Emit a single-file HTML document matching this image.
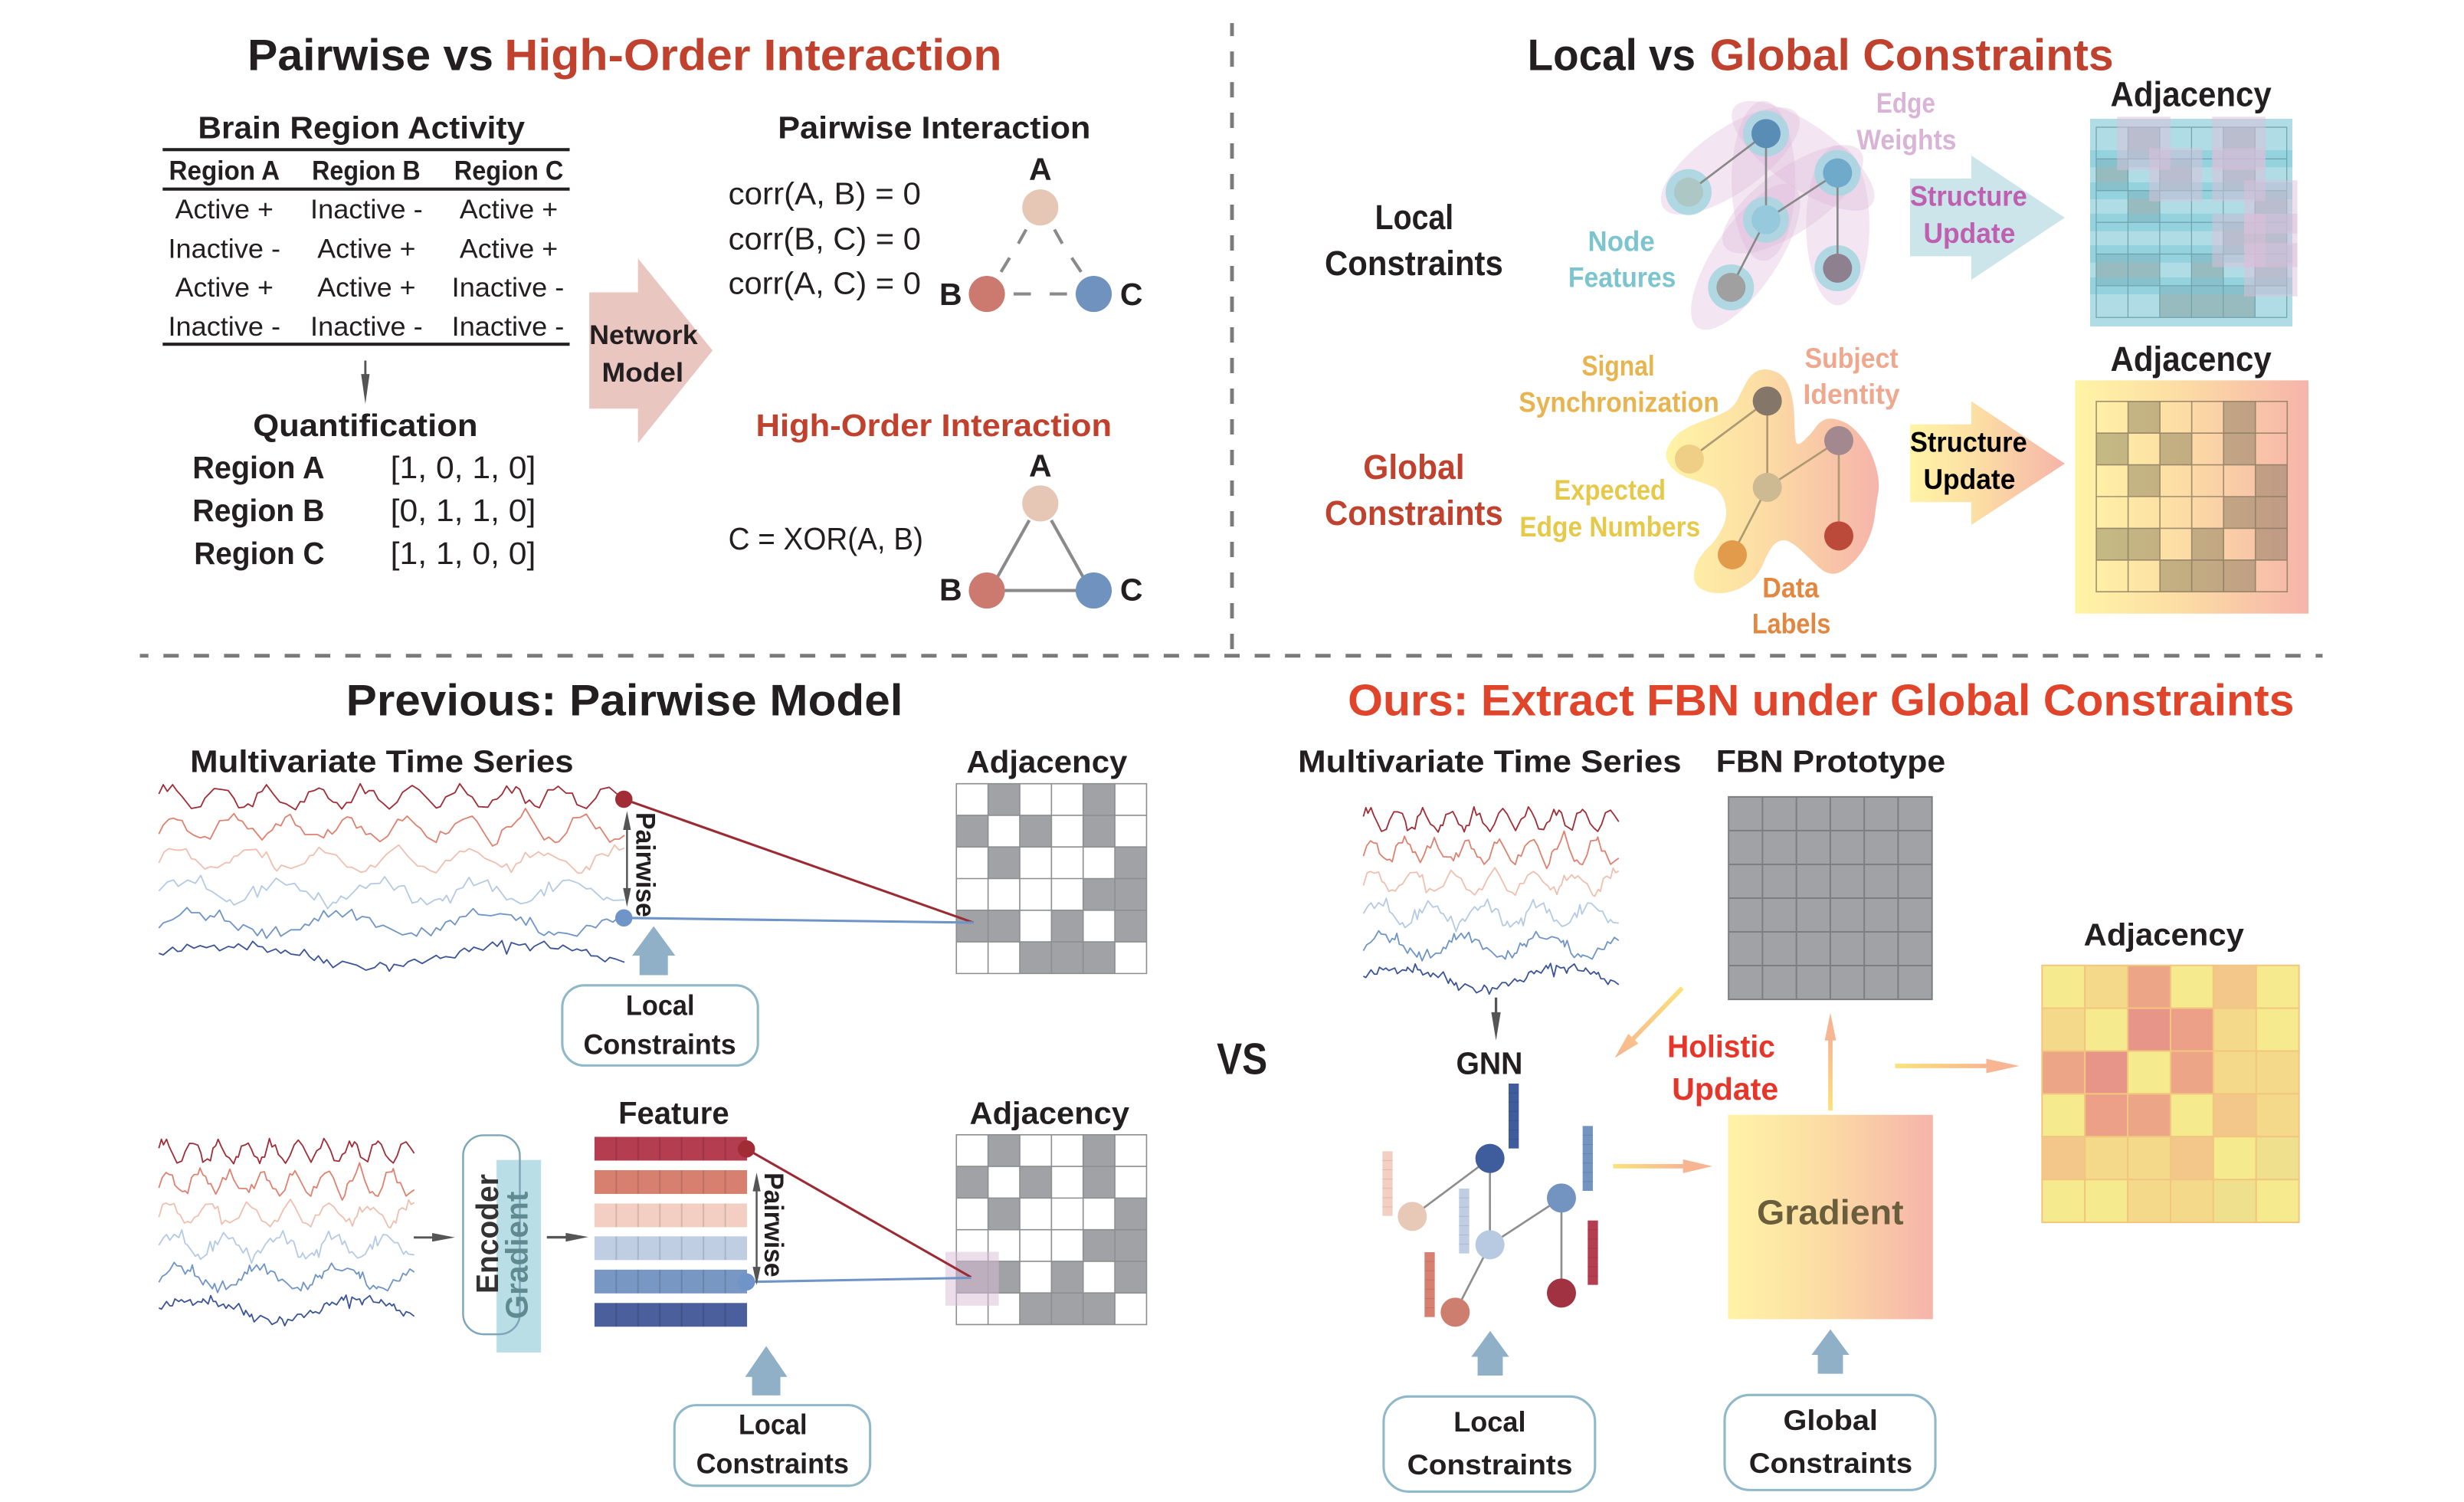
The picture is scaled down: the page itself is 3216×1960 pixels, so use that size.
<!DOCTYPE html>
<html><head><meta charset="utf-8"><title>Pairwise vs High-Order</title>
<style>
html,body{margin:0;padding:0;background:#fff}
svg{display:block}
text{font-family:"Liberation Sans",sans-serif;fill:#231f20}
.b{font-weight:700}
.f28{font-size:28px}.f22{font-size:22px}.f20{font-size:20px}.f18{font-size:18px}.f17{font-size:17px}.f16{font-size:16px}
.r{fill:#C0412D}
.ns{vector-effect:non-scaling-stroke;fill:none}
.s1 polyline{vector-effect:non-scaling-stroke;fill:none;stroke-width:1.8;stroke-linejoin:round}
.cm rect{width:1px;height:1px;stroke:#F2C67E;stroke-width:2;vector-effect:non-scaling-stroke}
</style></head><body>
<svg xmlns="http://www.w3.org/2000/svg" width="3216" height="1960" viewBox="0 0 1568 955.62">
<defs>
<linearGradient id="yg"><stop offset="0" stop-color="#FFF4A6"/><stop offset=".45" stop-color="#FCDDA4"/><stop offset="1" stop-color="#F6B4AA"/></linearGradient>
<linearGradient id="ag"><stop offset="0" stop-color="#FBE27A"/><stop offset="1" stop-color="#F7B592"/></linearGradient>
<linearGradient id="agv" x1="0" y1="1" x2="0" y2="0"><stop offset="0" stop-color="#FBE27A"/><stop offset="1" stop-color="#F7B592"/></linearGradient>
<linearGradient id="agd" x1="1" y1="0" x2="0" y2="1"><stop offset="0" stop-color="#FBE27A"/><stop offset="1" stop-color="#F7B592"/></linearGradient>
<path id="cells" d="M1 0h1v1h-1z M4 0h1v1h-1z M0 1h1v1h-1z M2 1h1v1h-1z M4 1h1v1h-1z M1 2h1v1h-1z M5 2h1v1h-1z M4 3h2v1h-2z M0 4h2v1h-2z M3 4h1v1h-1z M5 4h1v1h-1z M2 5h3v1h-3z"/>
<path id="grid" class="ns" d="M0 0H6V6H0Z M1 0V6M2 0V6M3 0V6M4 0V6M5 0V6M0 1H6M0 2H6M0 3H6M0 4H6M0 5H6"/>
<g id="adj">
<rect width="6" height="6" fill="#fff"/>
<use href="#cells" fill="#A0A2A5"/>
<use href="#grid" stroke="#8c8e90" stroke-width="1.6"/>
</g>
<path id="d7" d="M13.87 0V15M27.74 0V15M41.61 0V15M55.48 0V15M69.35 0V15M83.22 0V15" fill="none" stroke="#000" stroke-opacity=".12" stroke-width="1"/>
<path id="d7v" d="M0 36.3H40M0 72.6H40M0 108.9H40M0 145.2H40M0 181.5H40M0 217.8H40" fill="none" stroke="#000" stroke-opacity=".1" stroke-width="3"/>
<g id="set2" class="s1" transform="scale(.48756) translate(200 1480) scale(.33333)">
<polyline stroke="#A12C35" points="22,55 32,20 40,42 52,20 62,48 75,75 93,113 112,105 125,68 142,36 158,37 175,43 187,75 194,110 212,97 224,104 234,55 245,45 254,20 268,52 285,85 298,93 315,116 325,88 333,90 345,47 360,42 372,35 385,60 395,85 408,92 417,115 425,90 436,90 455,17 465,50 478,42 490,80 505,95 518,114 535,85 552,42 568,23 585,45 600,75 618,110 630,85 640,65 655,55 668,17 680,35 695,65 708,103 728,106 740,80 752,72 768,27 778,50 788,30 798,40 812,90 825,98 840,108 858,42 872,38 880,27 893,40 910,82 925,100 940,113 955,85 970,40 990,30 1005,50 1022,75"/>
<polyline stroke="#E0806F" points="22,210 35,170 50,150 62,158 75,160 85,200 100,215 115,225 125,222 135,232 150,170 160,158 175,158 183,132 195,160 205,165 215,195 225,193 245,235 260,205 272,170 285,178 300,137 315,178 335,212 350,213 365,213 375,228 385,197 395,213 420,150 435,147 445,180 455,183 468,213 480,215 495,242 515,220 535,155 545,160 555,143 575,180 600,228 617,243 628,205 640,210 655,170 672,153 690,145 705,170 722,215 740,258 750,240 760,195 770,183 780,183 795,150 808,112 828,180 848,230 858,225 870,240 880,243 898,205 912,150 935,147 940,135 955,190 968,190 990,242 1005,230 1022,218"/>
<polyline stroke="#F0BFAF" points="22,325 37,275 50,270 65,277 82,272 95,310 105,315 122,348 135,342 147,347 162,325 175,320 190,295 205,275 232,273 242,292 253,283 268,353 282,337 300,347 320,335 335,328 350,295 365,265 385,287 405,297 425,340 440,345 458,362 475,337 487,342 510,295 537,255 555,285 570,315 585,345 605,352 617,363 635,317 650,317 665,285 688,270 708,285 725,310 745,327 755,342 768,330 780,360 790,330 798,322 808,285 818,305 838,283 850,297 862,287 885,310 898,317 920,362 928,367 942,340 950,348 962,297 975,288 990,297 1000,257 1010,275 1022,268"/>
<polyline stroke="#B5CAE5" points="22,435 40,405 52,393 65,415 82,392 100,405 112,375 125,428 135,435 165,478 175,470 185,490 210,470 223,420 233,458 242,418 252,432 275,385 295,410 312,405 325,433 335,435 352,465 365,445 385,505 398,470 410,455 420,465 440,430 458,408 470,422 482,407 495,405 508,378 525,430 540,415 550,420 568,482 578,480 585,465 597,488 610,475 622,465 630,475 640,452 648,482 660,430 672,415 687,380 698,412 712,402 728,393 740,432 750,418 768,465 778,460 800,485 815,480 830,470 850,432 858,450 870,400 878,437 900,393 915,395 945,425 958,425 980,470 990,458 1000,470 1022,472"/>
<polyline stroke="#6F94C8" points="22,580 35,557 50,548 65,532 82,502 92,515 110,517 125,548 135,532 145,537 153,512 163,555 178,560 195,590 205,570 232,605 240,585 252,620 272,575 285,608 305,590 325,590 335,567 345,572 358,540 368,547 377,513 385,537 405,512 418,532 435,508 447,548 460,535 475,540 490,575 505,568 525,585 545,605 565,600 578,613 588,580 605,608 615,590 622,590 636,550 645,560 652,553 660,565 668,538 685,530 698,505 712,528 740,535 760,525 785,532 797,548 805,540 810,565 820,540 835,590 848,607 862,592 875,605 880,597 900,603 918,613 940,570 955,575 965,575 978,545 990,552 1005,528 1022,540"/>
<polyline stroke="#3B5499" points="22,680 32,685 52,655 65,672 75,672 85,645 100,655 110,648 122,658 145,648 155,670 175,655 190,658 195,645 215,665 225,632 235,655 245,655 255,675 275,665 285,682 295,668 315,685 335,663 355,708 362,690 378,715 385,705 395,735 420,710 450,725 465,745 485,735 495,715 505,725 515,750 527,725 545,730 565,705 580,705 590,718 615,690 625,700 635,695 650,702 660,688 670,665 680,660 690,670 700,658 718,668 738,638 745,650 755,630 768,682 778,638 795,648 808,645 818,668 825,650 848,632 862,657 885,660 892,648 912,672 925,662 935,672 942,665 952,690 965,690 980,712 990,695 1005,700 1022,713"/>
</g>
</defs>

<!-- dividers -->
<line x1="784" y1="14.7" x2="784" y2="413" stroke="#7a7a7a" stroke-width="2.4" stroke-dasharray="9.75 9.75" stroke-dashoffset="1.5"/>
<line x1="89" y1="417.2" x2="1478" y2="417.2" stroke="#7a7a7a" stroke-width="2.4" stroke-dasharray="9.75 9.54" stroke-dashoffset="4.3"/>

<!-- TL title -->
<text x="157.5" y="44.7" class="b f28" textLength="156.5" lengthAdjust="spacingAndGlyphs">Pairwise vs</text>
<text x="321" y="44.7" class="b f28 r" textLength="316.5" lengthAdjust="spacingAndGlyphs">High-Order Interaction</text>
<text x="126" y="88" class="b f20" textLength="208" lengthAdjust="spacingAndGlyphs">Brain Region Activity</text>
<rect x="103.5" y="94.2" width="259" height="2" fill="#231f20"/>
<rect x="103.5" y="119.3" width="259" height="2" fill="#231f20"/>
<rect x="103.5" y="218" width="259" height="2" fill="#231f20"/>
<g class="b f17">
<text x="107.5" y="114.4" textLength="70.5" lengthAdjust="spacingAndGlyphs">Region A</text>
<text x="198.5" y="114.4" textLength="69" lengthAdjust="spacingAndGlyphs">Region B</text>
<text x="289" y="114.4" textLength="69.5" lengthAdjust="spacingAndGlyphs">Region C</text>
</g>
<g class="f17">
<text x="111.5" y="139" textLength="62.5" lengthAdjust="spacingAndGlyphs">Active +</text>
<text x="197.5" y="139" textLength="71.5" lengthAdjust="spacingAndGlyphs">Inactive -</text>
<text x="292.5" y="139" textLength="62.5" lengthAdjust="spacingAndGlyphs">Active +</text>
<text x="107" y="164" textLength="71.5" lengthAdjust="spacingAndGlyphs">Inactive -</text>
<text x="202" y="164" textLength="62.5" lengthAdjust="spacingAndGlyphs">Active +</text>
<text x="292.5" y="164" textLength="62.5" lengthAdjust="spacingAndGlyphs">Active +</text>
<text x="111.5" y="188.8" textLength="62.5" lengthAdjust="spacingAndGlyphs">Active +</text>
<text x="202" y="188.8" textLength="62.5" lengthAdjust="spacingAndGlyphs">Active +</text>
<text x="287.5" y="188.8" textLength="71.5" lengthAdjust="spacingAndGlyphs">Inactive -</text>
<text x="107" y="213.6" textLength="71.5" lengthAdjust="spacingAndGlyphs">Inactive -</text>
<text x="197.5" y="213.6" textLength="71.5" lengthAdjust="spacingAndGlyphs">Inactive -</text>
<text x="287.5" y="213.6" textLength="71.5" lengthAdjust="spacingAndGlyphs">Inactive -</text>
</g>
<polygon points="231.8,229.4 233.2,229.4 233.2,238 235.2,238 232.5,257 229.8,238 231.8,238" fill="#555"/>
<text x="161" y="277.5" class="b f20" textLength="143" lengthAdjust="spacingAndGlyphs">Quantification</text>
<g class="b f20">
<text x="122.5" y="304.3" textLength="84" lengthAdjust="spacingAndGlyphs">Region A</text>
<text x="122.5" y="331.5" textLength="84" lengthAdjust="spacingAndGlyphs">Region B</text>
<text x="123.5" y="358.8" textLength="83" lengthAdjust="spacingAndGlyphs">Region C</text>
</g>
<g class="f20">
<text x="248.5" y="304.3" textLength="92.5" lengthAdjust="spacingAndGlyphs">[1, 0, 1, 0]</text>
<text x="248.5" y="331.5" textLength="92.5" lengthAdjust="spacingAndGlyphs">[0, 1, 1, 0]</text>
<text x="248.5" y="358.8" textLength="92.5" lengthAdjust="spacingAndGlyphs">[1, 1, 0, 0]</text>
</g>
<polygon points="375,186 406,186 406,164.4 453.5,223 406,282 406,260 375,260" fill="#EAC6C0"/>
<text x="375" y="219" class="b f17" textLength="69" lengthAdjust="spacingAndGlyphs">Network</text>
<text x="383" y="242.8" class="b f17" textLength="52" lengthAdjust="spacingAndGlyphs">Model</text>

<text x="495" y="88" class="b f20" textLength="199" lengthAdjust="spacingAndGlyphs">Pairwise Interaction</text>
<g class="f20">
<text x="463.5" y="130" textLength="122.5" lengthAdjust="spacingAndGlyphs">corr(A, B) = 0</text>
<text x="463.5" y="158.6" textLength="122.5" lengthAdjust="spacingAndGlyphs">corr(B, C) = 0</text>
<text x="463.5" y="187" textLength="122.5" lengthAdjust="spacingAndGlyphs">corr(A, C) = 0</text>
<text x="463.5" y="349.6" textLength="124" lengthAdjust="spacingAndGlyphs">C = XOR(A, B)</text>
</g>
<g stroke="#8a8a8a" stroke-width="2" fill="none">
<path d="M653 146L648 155M642.5 164L637 173M671 146L676 155M682 164L688 173M645 187H656M668 187H679"/>
<path d="M655 331L632 372M669 331L692 372M628 375.7H696"/>
</g>
<circle cx="662" cy="132" r="11.5" fill="#E6C7B6"/>
<circle cx="628" cy="187" r="11.5" fill="#CC7A70"/>
<circle cx="696" cy="187" r="11.5" fill="#6F92BF"/>
<circle cx="662" cy="320.3" r="11.5" fill="#E6C7B6"/>
<circle cx="628" cy="375.7" r="11.5" fill="#CC7A70"/>
<circle cx="696" cy="375.7" r="11.5" fill="#6F92BF"/>
<g class="b f20" text-anchor="middle">
<text x="662" y="114.4">A</text><text x="605" y="194">B</text><text x="720" y="194">C</text>
<text x="662" y="303">A</text><text x="605" y="382">B</text><text x="720" y="382">C</text>
</g>
<text x="481" y="277.5" class="b f20 r" textLength="226.5" lengthAdjust="spacingAndGlyphs">High-Order Interaction</text>

<!-- TR title -->
<text x="972" y="44.7" class="b f28" textLength="107" lengthAdjust="spacingAndGlyphs">Local vs</text>
<text x="1088" y="44.7" class="b f28 r" textLength="257" lengthAdjust="spacingAndGlyphs">Global Constraints</text>
<text x="1343" y="67.6" class="b f22" textLength="102.5" lengthAdjust="spacingAndGlyphs">Adjacency</text>
<text x="1343" y="236" class="b f22" textLength="102.5" lengthAdjust="spacingAndGlyphs">Adjacency</text>
<g class="b f22">
<text x="875" y="145.7" textLength="50" lengthAdjust="spacingAndGlyphs">Local</text>
<text x="843" y="175" textLength="113.5" lengthAdjust="spacingAndGlyphs">Constraints</text>
<text x="867.5" y="304.8" textLength="64.5" lengthAdjust="spacingAndGlyphs" class="r">Global</text>
<text x="843" y="334" textLength="113.5" lengthAdjust="spacingAndGlyphs" class="r">Constraints</text>
</g>

<!-- local graph -->
<g transform="scale(.48756) translate(2130 120) scale(.33333)">
<g fill="#DDB6D8" fill-opacity=".34">
<ellipse cx="385" cy="270" rx="320" ry="124" transform="rotate(-35 385 270)"/>
<ellipse cx="515" cy="348" rx="125" ry="313"/>
<ellipse cx="670" cy="250" rx="330" ry="124" transform="rotate(35 670 250)"/>
<ellipse cx="630" cy="420" rx="325" ry="124" transform="rotate(-35 630 420)"/>
<ellipse cx="445" cy="645" rx="335" ry="124" transform="rotate(-56 445 645)"/>
<ellipse cx="806" cy="522" rx="124" ry="313"/>
</g>
<g fill="#A9D6E1" fill-opacity=".9">
<circle cx="525" cy="163" r="90"/><circle cx="222" cy="392" r="90"/><circle cx="805" cy="317" r="90"/>
<circle cx="525" cy="500" r="90"/><circle cx="388" cy="765" r="90"/><circle cx="805" cy="690" r="90"/>
</g>
<path d="M525 163L222 392M525 163V500M805 317L525 500M805 317V690M525 500L388 765" stroke="#888" stroke-width="8" fill="none"/>
<circle cx="525" cy="163" r="57" fill="#5A8DB5"/><circle cx="222" cy="392" r="57" fill="#ADC8C4"/><circle cx="805" cy="317" r="57" fill="#6FAACB"/>
<circle cx="525" cy="500" r="57" fill="#97C9DD"/><circle cx="388" cy="765" r="57" fill="#A0A0A0"/><circle cx="805" cy="690" r="57" fill="#8F8090"/>
</g>
<g class="b f18">
<text x="1194" y="71.6" textLength="37.5" lengthAdjust="spacingAndGlyphs" style="fill:#D9B4D6">Edge</text>
<text x="1181.5" y="95" textLength="63.5" lengthAdjust="spacingAndGlyphs" style="fill:#D9B4D6">Weights</text>
<text x="1010.5" y="159.6" textLength="42.5" lengthAdjust="spacingAndGlyphs" style="fill:#7CC5CF">Node</text>
<text x="998" y="182.6" textLength="68.5" lengthAdjust="spacingAndGlyphs" style="fill:#7CC5CF">Features</text>
</g>
<polygon points="1215.5,113.6 1254.5,113.6 1254.5,99 1314,138.5 1254.5,178 1254.5,163 1215.5,163" fill="#CBE5EA"/>
<text x="1215.5" y="131" class="b f18" textLength="74.5" lengthAdjust="spacingAndGlyphs" style="fill:#BE5FAF">Structure</text>
<text x="1224" y="154.5" class="b f18" textLength="58.5" lengthAdjust="spacingAndGlyphs" style="fill:#BE5FAF">Update</text>

<!-- teal matrix -->
<g transform="scale(.48756)">
<rect x="2728" y="155" width="264" height="271" fill="#B0DDE5"/>
<use href="#cells" fill="#6f8080" opacity=".36" transform="translate(2736 166) scale(41.45 41.38)"/>
<g fill="#78C8D6" fill-opacity=".5">
<rect x="2728" y="196" width="264" height="22.3"/><rect x="2728" y="238" width="264" height="22"/>
<rect x="2728" y="278.7" width="264" height="23"/><rect x="2728" y="320" width="264" height="22.7"/>
<rect x="2728" y="362" width="264" height="22"/>
</g>
<use href="#grid" stroke="#6ea2ab" stroke-width="1.2" transform="translate(2736 166) scale(41.45 41.38)"/>
<g fill="#DBBFDA" fill-opacity=".5">
<rect x="2763.3" y="152.3" width="69.5" height="69.5"/><rect x="2805" y="193.3" width="69.5" height="69.5"/>
<rect x="2887.3" y="152.3" width="69.5" height="69.5"/><rect x="2887.3" y="193.3" width="69.5" height="69.5"/>
<rect x="2929" y="235.3" width="69.5" height="69.5"/><rect x="2887.3" y="279" width="69.5" height="69.5"/>
<rect x="2929" y="279" width="69.5" height="69.5"/><rect x="2929" y="317.3" width="69.5" height="69.5"/>
</g>
</g>

<!-- global graph -->
<g transform="scale(.48756) translate(2150 460) scale(.33333)">
<path d="M437 70Q465 60 502 75Q540 90 557 140Q575 190 576 265Q578 340 584 353Q590 367 615 343Q640 320 660 292Q680 265 705 260Q730 255 770 272Q810 290 845 340Q880 390 896 450Q912 510 904 550Q897 590 891 640Q885 690 862 740Q840 790 800 827Q760 865 730 866Q700 868 670 839Q640 810 605 777Q570 745 547 737Q525 730 502 747Q480 765 457 820Q435 875 397 902Q360 930 315 939Q270 948 230 934Q190 920 184 890Q178 860 194 825Q210 790 240 762Q270 735 294 687Q318 640 304 590Q290 540 255 525Q220 510 170 495Q120 480 91 445Q62 410 81 370Q100 330 135 307Q170 285 220 267Q270 250 305 232Q340 215 357 177Q375 140 392 110Q410 80 437 70Z" fill="url(#yg)"/>
<path d="M470 190L165 417M470 190V528M750 345L470 528M750 345V718M470 528L333 792" stroke="#AD9A72" stroke-width="8" fill="none"/>
<circle cx="470" cy="190" r="57" fill="#84776A"/><circle cx="165" cy="417" r="57" fill="#EFCF85"/>
<circle cx="750" cy="345" r="57" fill="#A48890"/><circle cx="470" cy="528" r="57" fill="#CDBA93"/>
<circle cx="333" cy="792" r="57" fill="#E29A4B"/><circle cx="750" cy="718" r="57" fill="#BC4A3A"/>
</g>
<g class="b f18">
<text x="1006.5" y="238.8" textLength="46.5" lengthAdjust="spacingAndGlyphs" style="fill:#E8B44F">Signal</text>
<text x="966.5" y="262" textLength="127.5" lengthAdjust="spacingAndGlyphs" style="fill:#E8B44F">Synchronization</text>
<text x="1148.5" y="234" textLength="59.5" lengthAdjust="spacingAndGlyphs" style="fill:#EFA78E">Subject</text>
<text x="1147.5" y="257" textLength="61.5" lengthAdjust="spacingAndGlyphs" style="fill:#EFA78E">Identity</text>
<text x="989" y="318" textLength="71" lengthAdjust="spacingAndGlyphs" style="fill:#E7C94A">Expected</text>
<text x="967" y="341.4" textLength="115" lengthAdjust="spacingAndGlyphs" style="fill:#E7C94A">Edge Numbers</text>
<text x="1121.5" y="380" textLength="36" lengthAdjust="spacingAndGlyphs" style="fill:#E2873F">Data</text>
<text x="1115" y="403" textLength="50" lengthAdjust="spacingAndGlyphs" style="fill:#E2873F">Labels</text>
</g>
<polygon points="1215.5,270 1254.5,270 1254.5,255.3 1314,295 1254.5,334 1254.5,319.5 1215.5,319.5" fill="url(#yg)"/>
<text x="1215.5" y="287.4" class="b f18" textLength="74.5" lengthAdjust="spacingAndGlyphs" style="fill:#000">Structure</text>
<text x="1224" y="311" class="b f18" textLength="58.5" lengthAdjust="spacingAndGlyphs" style="fill:#000">Update</text>
<rect x="1320.5" y="242" width="148.5" height="148.4" fill="url(#yg)"/>
<use href="#cells" fill="#6e6a50" opacity=".4" transform="translate(1334 255.4) scale(20.25 20.18)"/>
<use href="#grid" stroke="#8a7a60" stroke-width="1.6" opacity=".8" transform="translate(1334 255.4) scale(20.25 20.18)"/>

<!-- BL -->
<text x="220.2" y="455.2" class="b f28" textLength="354.4" lengthAdjust="spacingAndGlyphs">Previous: Pairwise Model</text>
<text x="121" y="491.2" class="b f20" textLength="244" lengthAdjust="spacingAndGlyphs">Multivariate Time Series</text>
<text x="615" y="491.4" class="b f20" textLength="102.4" lengthAdjust="spacingAndGlyphs">Adjacency</text>
<use href="#adj" transform="translate(608.6 498.6) scale(20.17 20.13)"/>

<g class="s1" transform="scale(.48756) translate(200 1020) scale(.40816 .33333)">
<polyline stroke="#A12C35" points="18,48 32,12 45,38 62,12 75,35 92,58 122,105 152,98 165,65 195,27 215,30 240,35 258,65 273,102 290,100 303,87 318,98 333,45 348,38 362,12 385,50 405,80 425,87 455,110 470,78 483,80 497,40 515,35 530,25 545,32 560,65 575,80 587,82 603,107 618,82 633,82 662,8 678,47 690,35 705,35 720,70 735,85 755,107 780,80 797,42 828,15 850,32 880,70 905,103 918,98 935,60 965,43 980,8 1005,50 1020,60 1040,98 1070,100 1085,72 1100,68 1115,50 1130,17 1147,45 1160,20 1172,30 1190,85 1203,72 1220,95 1235,102 1262,32 1280,32 1295,18 1320,45 1340,45 1355,90 1385,105 1415,65 1430,30 1458,22 1480,45 1500,65"/>
<polyline stroke="#E0806F" points="18,205 32,170 50,147 65,143 78,150 92,152 108,192 130,210 150,220 165,215 182,225 205,170 212,153 240,150 258,125 272,150 285,155 302,185 318,183 348,228 365,203 380,190 392,165 408,173 422,140 438,128 455,170 470,178 485,207 505,207 525,207 545,220 558,188 572,205 585,190 605,150 620,138 635,142 650,182 665,175 680,207 695,203 725,235 750,213 782,147 797,153 812,135 840,170 855,183 875,217 905,238 918,195 935,205 945,200 965,165 990,148 1020,135 1035,155 1065,215 1085,252 1100,243 1115,190 1130,177 1145,177 1165,150 1175,140 1190,105 1250,228 1265,217 1285,238 1297,235 1322,200 1342,142 1365,140 1385,127 1415,185 1428,178 1460,237 1475,225 1490,225 1507,210"/>
<polyline stroke="#F0BFAF" points="18,318 35,275 50,262 72,268 90,268 105,263 122,302 135,305 165,342 182,333 205,337 232,317 245,317 258,292 270,290 290,268 330,265 348,297 362,275 385,335 395,350 410,327 440,340 485,320 500,290 512,288 530,257 550,278 585,287 620,335 635,335 665,355 680,350 695,327 710,335 745,285 785,248 815,293 845,330 865,332 885,348 905,357 935,308 950,310 980,272 995,275 1010,262 1040,278 1060,300 1095,318 1115,335 1130,322 1145,355 1160,322 1175,315 1190,277 1205,297 1232,275 1250,290 1262,280 1300,305 1320,312 1358,358 1370,358 1385,332 1395,345 1415,290 1435,282 1455,292 1475,248 1490,268 1507,260"/>
<polyline stroke="#B5CAE5" points="18,428 45,393 65,385 80,410 110,385 135,398 152,367 170,420 188,430 235,470 245,462 258,483 292,463 320,410 333,452 347,408 362,425 393,378 425,405 452,398 470,427 490,430 515,463 528,435 558,497 575,472 585,475 600,448 618,460 650,420 660,405 680,418 695,400 725,398 740,372 770,425 785,410 803,407 828,475 845,470 855,455 875,482 900,463 918,458 925,467 938,445 950,475 970,423 990,415 1010,375 1025,407 1045,397 1070,385 1085,430 1098,410 1130,463 1145,457 1175,478 1195,473 1210,465 1240,423 1250,447 1265,393 1278,430 1310,387 1330,385 1360,398 1385,420 1400,418 1440,463 1450,453 1470,465 1507,463"/>
<polyline stroke="#6F94C8" points="18,573 32,553 62,540 85,522 108,493 122,513 148,513 168,543 182,525 195,530 212,503 228,545 245,548 272,582 288,560 318,578 333,603 348,577 362,613 392,568 408,605 440,580 470,580 485,558 498,563 515,535 528,545 545,505 560,530 585,505 605,530 635,500 650,542 668,528 692,533 712,570 735,562 760,577 797,600 825,592 842,605 858,572 888,603 905,572 918,582 935,550 950,543 965,560 980,530 1000,527 1023,497 1040,520 1080,525 1108,517 1145,522 1160,543 1175,530 1192,562 1205,532 1232,590 1250,602 1265,587 1282,600 1295,590 1325,595 1355,605 1385,563 1400,565 1415,572 1435,543 1450,538 1470,550 1490,528 1505,520"/>
<polyline stroke="#3B5499" points="18,672 32,678 62,648 78,665 90,663 108,637 130,652 150,642 170,650 195,640 212,662 240,645 258,650 272,635 300,658 318,625 335,645 350,647 365,668 392,655 408,672 422,660 440,675 468,680 483,657 500,685 515,700 528,682 545,710 555,697 575,728 605,703 650,718 680,738 708,728 725,708 745,720 755,742 770,715 800,723 815,705 835,695 860,712 905,680 918,692 935,685 965,690 980,665 995,652 1010,665 1025,648 1055,660 1085,628 1100,645 1115,622 1130,675 1145,630 1170,640 1190,635 1205,662 1218,645 1250,625 1270,652 1295,655 1310,640 1340,662 1355,655 1370,662 1385,657 1400,682 1420,683 1445,705 1460,688 1480,695 1507,707"/>
</g>
<line x1="397" y1="508.5" x2="619.5" y2="587" stroke="#9C2A33" stroke-width="1.5"/>
<line x1="397" y1="584" x2="619.5" y2="587" stroke="#6F94C8" stroke-width="1.5"/>
<circle cx="397" cy="508.5" r="5.5" fill="#A12C35"/><circle cx="397" cy="584" r="5.5" fill="#6F94C8"/>
<path d="M399 520V573" stroke="#555" stroke-width="1.2"/>
<polygon points="399,516 401.5,528 396.5,528" fill="#555"/><polygon points="399,577 401.5,565 396.5,565" fill="#555"/>
<text transform="translate(405 516.8) rotate(90)" class="b f17" textLength="66.7" lengthAdjust="spacingAndGlyphs">Pairwise</text>
<polygon points="416,589.3 429.7,608 425,608 425,620.4 407,620.4 407,608 402.3,608" fill="#8FB0C6"/>
<rect x="357.8" y="626.9" width="124.5" height="51" rx="14" fill="#fff" stroke="#8FB9C9" stroke-width="1.5"/>
<text x="398.3" y="645.7" class="b f18" textLength="43.7" lengthAdjust="spacingAndGlyphs">Local</text>
<text x="371.3" y="670.7" class="b f18" textLength="97.1" lengthAdjust="spacingAndGlyphs">Constraints</text>

<use href="#set2"/>
<polygon points="263.3,786.6 275,786.6 275,784.5 289.5,787.3 275,790 275,788 263.3,788" fill="#555"/>
<rect x="316" y="738" width="28.3" height="122.5" fill="#B9DEE5"/>
<rect x="294.7" y="722.3" width="36.1" height="126.6" rx="13" fill="none" stroke="#7EA6BA" stroke-width="1.2"/>
<text transform="translate(317 823) rotate(-90)" class="b f20" textLength="76" lengthAdjust="spacingAndGlyphs" style="fill:#333">Encoder</text>
<text transform="translate(335.6 839.3) rotate(-90)" class="b f20" textLength="81.3" lengthAdjust="spacingAndGlyphs" style="fill:#5f8a90">Gradient</text>
<polygon points="348,786.4 360,786.4 360,784.4 374.4,787 360,790 360,788 348,788" fill="#555"/>
<text x="393.5" y="715" class="b f20" textLength="70.5" lengthAdjust="spacingAndGlyphs">Feature</text>
<text x="617" y="715" class="b f20" textLength="101.7" lengthAdjust="spacingAndGlyphs">Adjacency</text>
<use href="#adj" transform="translate(608.6 722) scale(20.17 20.12)"/>
<rect x="601.6" y="796.5" width="34" height="34.2" fill="#D9BBD6" opacity=".5"/>
<rect x="378.3" y="723.3" width="97.1" height="15.1" fill="#B43D50"/><use href="#d7" x="378.3" y="723.3"/>
<rect x="378.3" y="744.5" width="97.1" height="15.1" fill="#D8806F"/><use href="#d7" x="378.3" y="744.5"/>
<rect x="378.3" y="765.7" width="97.1" height="15.1" fill="#F3CFC3"/><use href="#d7" x="378.3" y="765.7"/>
<rect x="378.3" y="786.6" width="97.1" height="15.1" fill="#C0CEE3"/><use href="#d7" x="378.3" y="786.6"/>
<rect x="378.3" y="807.8" width="97.1" height="15.1" fill="#7897C2"/><use href="#d7" x="378.3" y="807.8"/>
<rect x="378.3" y="829" width="97.1" height="15.1" fill="#4A5F9B"/><use href="#d7" x="378.3" y="829"/>
<line x1="475" y1="731" x2="618" y2="812.6" stroke="#9C2A33" stroke-width="1.5"/>
<line x1="475" y1="815.6" x2="618" y2="813" stroke="#6F94C8" stroke-width="1.5"/>
<circle cx="475" cy="731" r="5.5" fill="#A12C35"/><circle cx="475" cy="815.6" r="5.5" fill="#6F94C8"/>
<path d="M481.5 750V814" stroke="#555" stroke-width="1.2"/>
<polygon points="481.5,746 484,758 479,758" fill="#555"/><polygon points="481.5,817.7 484,806 479,806" fill="#555"/>
<text transform="translate(486.7 746) rotate(90)" class="b f17" textLength="66.6" lengthAdjust="spacingAndGlyphs">Pairwise</text>
<polygon points="487.6,856.4 501,876 496.6,876 496.6,887.8 478.6,887.8 478.6,876 474.2,876" fill="#8FB0C6"/>
<rect x="429.2" y="894" width="124.5" height="51.3" rx="14" fill="#fff" stroke="#8FB9C9" stroke-width="1.5"/>
<text x="470" y="912.5" class="b f18" textLength="43.7" lengthAdjust="spacingAndGlyphs">Local</text>
<text x="443" y="937.4" class="b f18" textLength="97.2" lengthAdjust="spacingAndGlyphs">Constraints</text>

<!-- BR -->
<text x="774.3" y="683.3" class="b f28" textLength="32.2" lengthAdjust="spacingAndGlyphs">VS</text>
<text x="857.7" y="455.2" class="b f28" textLength="602.3" lengthAdjust="spacingAndGlyphs" style="fill:#E0452C">Ours: Extract FBN under Global Constraints</text>
<text x="826" y="491.2" class="b f20" textLength="244" lengthAdjust="spacingAndGlyphs">Multivariate Time Series</text>
<text x="1092" y="491.2" class="b f20" textLength="146" lengthAdjust="spacingAndGlyphs">FBN Prototype</text>
<use href="#set2" transform="translate(766.5 -211)"/>
<rect x="1100" y="507" width="129.5" height="128.8" fill="#A0A2A5"/>
<use href="#grid" stroke="#7c7e80" stroke-width="2" transform="translate(1100 507) scale(21.58 21.47)"/>
<polygon points="951.2,634.7 952.8,634.7 952.8,644 955,644 952,662 949,644 951.2,644" fill="#555"/>
<text x="926.6" y="683.3" class="b f20" textLength="42.4" lengthAdjust="spacingAndGlyphs">GNN</text>
<polygon points="1071.5,629.6 1069.5,627.6 1038.4,659.8 1036.2,657.7 1027.6,673 1042.6,663.9 1040.4,661.8" fill="url(#agd)"/>
<text x="1061" y="672.5" class="b f20" textLength="68.6" lengthAdjust="spacingAndGlyphs" style="fill:#E8352A">Holistic</text>
<text x="1064" y="699.7" class="b f20" textLength="67.7" lengthAdjust="spacingAndGlyphs" style="fill:#E8352A">Update</text>
<rect x="1163.4" y="660" width="2.8" height="46.6" fill="url(#agv)"/>
<polygon points="1164.8,644.3 1168.4,662 1161.2,662" fill="#F7B592"/>
<rect x="1206" y="676.8" width="60" height="2.8" fill="url(#ag)"/>
<polygon points="1285,678.2 1264,673.6 1264,682.8" fill="#F7B592"/>
<rect x="1026.5" y="740.6" width="46" height="2.8" fill="url(#ag)"/>
<polygon points="1089.7,742 1071,737.6 1071,746.4" fill="#F7B592"/>
<rect x="1099.6" y="709.3" width="130.4" height="130" fill="url(#yg)"/>
<text x="1118" y="779" class="b f22" textLength="93.4" lengthAdjust="spacingAndGlyphs" style="fill:#6B5E3C">Gradient</text>
<text x="1326" y="601.3" class="b f20" textLength="102" lengthAdjust="spacingAndGlyphs">Adjacency</text>

<g class="cm" transform="translate(1299.5 614.2) scale(27.25)">
<rect x="0" y="0" fill="#F5EA8E"/><rect x="1" y="0" fill="#F5D98A"/><rect x="2" y="0" fill="#EDA588"/><rect x="3" y="0" fill="#F5EA8E"/><rect x="4" y="0" fill="#F3C78A"/><rect x="5" y="0" fill="#F5EA8E"/>
<rect x="0" y="1" fill="#F5D98A"/><rect x="1" y="1" fill="#F5EA8E"/><rect x="2" y="1" fill="#E79588"/><rect x="3" y="1" fill="#ECA088"/><rect x="4" y="1" fill="#F5D98A"/><rect x="5" y="1" fill="#F5EA8E"/>
<rect x="0" y="2" fill="#EDA588"/><rect x="1" y="2" fill="#E79588"/><rect x="2" y="2" fill="#F5EA8E"/><rect x="3" y="2" fill="#EDA588"/><rect x="4" y="2" fill="#F5D98A"/><rect x="5" y="2" fill="#F5D98A"/>
<rect x="0" y="3" fill="#F5EA8E"/><rect x="1" y="3" fill="#ECA088"/><rect x="2" y="3" fill="#EDA588"/><rect x="3" y="3" fill="#F5EA8E"/><rect x="4" y="3" fill="#F3C78A"/><rect x="5" y="3" fill="#F5D98A"/>
<rect x="0" y="4" fill="#F3C78A"/><rect x="1" y="4" fill="#F5D98A"/><rect x="2" y="4" fill="#F5D98A"/><rect x="3" y="4" fill="#F3C78A"/><rect x="4" y="4" fill="#F5EA8E"/><rect x="5" y="4" fill="#EFE08E"/>
<rect x="0" y="5" fill="#F5EA8E"/><rect x="1" y="5" fill="#F5EA8E"/><rect x="2" y="5" fill="#F5D98A"/><rect x="3" y="5" fill="#F5D98A"/><rect x="4" y="5" fill="#EFE08E"/><rect x="5" y="5" fill="#F5EA8E"/>
</g>

<!-- GNN graph -->
<g transform="scale(.48756) translate(1780 1400) scale(.33333)">
<path d="M494 335L190 562M494 335V673M774 490L494 673M774 490V862M494 673L358 937" stroke="#8e8e8e" stroke-width="8" fill="none"/>
<circle cx="494" cy="335" r="57" fill="#3F5C9C"/><circle cx="190" cy="562" r="57" fill="#E8C8B6"/>
<circle cx="774" cy="490" r="57" fill="#7394C0"/><circle cx="494" cy="673" r="57" fill="#B8CAE2"/>
<circle cx="358" cy="937" r="57" fill="#CD7E6F"/><circle cx="774" cy="862" r="57" fill="#A03242"/>
<rect x="567" y="42" width="40" height="254" fill="#3F5C9C"/><use href="#d7v" x="567" y="42"/>
<rect x="857" y="208" width="40" height="254" fill="#7394C0"/><use href="#d7v" x="857" y="208"/>
<rect x="73" y="307" width="40" height="253" fill="#F3CFC3"/><use href="#d7v" x="73" y="307"/>
<rect x="373" y="453" width="40" height="254" fill="#C0CEE3"/><use href="#d7v" x="373" y="453"/>
<rect x="238" y="702" width="40" height="254" fill="#D8806F"/><use href="#d7v" x="238" y="702"/>
<rect x="877" y="578" width="40" height="252" fill="#B43D50"/><use href="#d7v" x="877" y="578"/>
</g>
<polygon points="948.3,846.8 960.3,863.2 956.3,863.2 956.3,875.2 940.3,875.2 940.3,863.2 936.3,863.2" fill="#8FB0C6"/>
<polygon points="1164.8,845.8 1176.8,862 1172.8,862 1172.8,874 1156.8,874 1156.8,862 1152.8,862" fill="#8FB0C6"/>
<rect x="880.5" y="888.5" width="134.5" height="60.5" rx="16" fill="#fff" stroke="#8FB9C9" stroke-width="1.5"/>
<rect x="1097.5" y="887.5" width="134.1" height="60.5" rx="16" fill="#fff" stroke="#8FB9C9" stroke-width="1.5"/>
<text x="925" y="910.8" class="b f18" textLength="46" lengthAdjust="spacingAndGlyphs">Local</text>
<text x="895.5" y="938" class="b f18" textLength="105.2" lengthAdjust="spacingAndGlyphs">Constraints</text>
<text x="1134.8" y="909.8" class="b f18" textLength="60.2" lengthAdjust="spacingAndGlyphs">Global</text>
<text x="1113" y="937" class="b f18" textLength="104" lengthAdjust="spacingAndGlyphs">Constraints</text>
</svg>
</body></html>
